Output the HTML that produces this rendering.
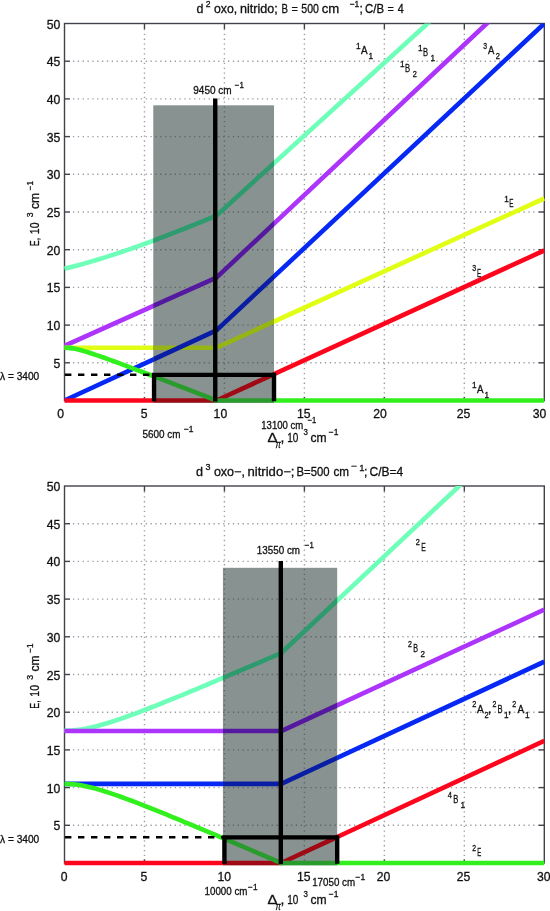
<!DOCTYPE html>
<html><head><meta charset="utf-8"><title>Energy level diagrams</title>
<style>
html,body{margin:0;padding:0;background:#fff;}
body{width:550px;height:911px;overflow:hidden;}
svg{display:block;}
text{font-family:"Liberation Sans", sans-serif;fill:#111;stroke:#111;stroke-width:0.3px;}
.g{stroke:#9c9ca3;stroke-width:1.4;stroke-dasharray:1.3 3.545;}
.gd{stroke:#5f6562;stroke-width:1.4;stroke-dasharray:1.3 3.545;}
.t{stroke:#40444a;stroke-width:1.4;}
.tk{font-size:12.2px;}
</style></head><body>
<svg width="550" height="911" viewBox="0 0 550 911">
<rect width="550" height="911" fill="#fff"/>

<g id="plot1">
<line x1="144.47" y1="28.90" x2="144.47" y2="400.50" class="g"/>
<line x1="224.43" y1="28.90" x2="224.43" y2="400.50" class="g"/>
<line x1="304.40" y1="28.90" x2="304.40" y2="400.50" class="g"/>
<line x1="384.37" y1="28.90" x2="384.37" y2="400.50" class="g"/>
<line x1="464.33" y1="28.90" x2="464.33" y2="400.50" class="g"/>
<line x1="72.95" y1="362.80" x2="544.30" y2="362.80" class="g"/>
<line x1="72.95" y1="325.10" x2="544.30" y2="325.10" class="g"/>
<line x1="72.95" y1="287.40" x2="544.30" y2="287.40" class="g"/>
<line x1="72.95" y1="249.70" x2="544.30" y2="249.70" class="g"/>
<line x1="72.95" y1="212.00" x2="544.30" y2="212.00" class="g"/>
<line x1="72.95" y1="174.30" x2="544.30" y2="174.30" class="g"/>
<line x1="72.95" y1="136.60" x2="544.30" y2="136.60" class="g"/>
<line x1="72.95" y1="98.90" x2="544.30" y2="98.90" class="g"/>
<line x1="72.95" y1="61.20" x2="544.30" y2="61.20" class="g"/>
<rect x="64.50" y="23.50" width="479.80" height="377.00" fill="none" class="t"/>
<line x1="144.47" y1="23.50" x2="144.47" y2="29.00" class="t"/>
<line x1="224.43" y1="23.50" x2="224.43" y2="29.00" class="t"/>
<line x1="304.40" y1="23.50" x2="304.40" y2="29.00" class="t"/>
<line x1="384.37" y1="23.50" x2="384.37" y2="29.00" class="t"/>
<line x1="464.33" y1="23.50" x2="464.33" y2="29.00" class="t"/>
<line x1="64.50" y1="362.80" x2="70.00" y2="362.80" class="t"/>
<line x1="544.30" y1="362.80" x2="538.80" y2="362.80" class="t"/>
<line x1="64.50" y1="325.10" x2="70.00" y2="325.10" class="t"/>
<line x1="544.30" y1="325.10" x2="538.80" y2="325.10" class="t"/>
<line x1="64.50" y1="287.40" x2="70.00" y2="287.40" class="t"/>
<line x1="544.30" y1="287.40" x2="538.80" y2="287.40" class="t"/>
<line x1="64.50" y1="249.70" x2="70.00" y2="249.70" class="t"/>
<line x1="544.30" y1="249.70" x2="538.80" y2="249.70" class="t"/>
<line x1="64.50" y1="212.00" x2="70.00" y2="212.00" class="t"/>
<line x1="544.30" y1="212.00" x2="538.80" y2="212.00" class="t"/>
<line x1="64.50" y1="174.30" x2="70.00" y2="174.30" class="t"/>
<line x1="544.30" y1="174.30" x2="538.80" y2="174.30" class="t"/>
<line x1="64.50" y1="136.60" x2="70.00" y2="136.60" class="t"/>
<line x1="544.30" y1="136.60" x2="538.80" y2="136.60" class="t"/>
<line x1="64.50" y1="98.90" x2="70.00" y2="98.90" class="t"/>
<line x1="544.30" y1="98.90" x2="538.80" y2="98.90" class="t"/>
<line x1="64.50" y1="61.20" x2="70.00" y2="61.20" class="t"/>
<line x1="544.30" y1="61.20" x2="538.80" y2="61.20" class="t"/>
<line x1="144.47" y1="398.50" x2="144.47" y2="396.90" class="t"/>
<line x1="224.43" y1="398.50" x2="224.43" y2="396.90" class="t"/>
<line x1="304.40" y1="398.50" x2="304.40" y2="396.90" class="t"/>
<line x1="384.37" y1="398.50" x2="384.37" y2="396.90" class="t"/>
<line x1="464.33" y1="398.50" x2="464.33" y2="396.90" class="t"/>
<clipPath id="c1"><rect x="64.00" y="23.50" width="480.80" height="382.00"/></clipPath>
<clipPath id="d1"><rect x="153.26" y="105.31" width="120.75" height="297.49"/></clipPath>
<g clip-path="url(#c1)">
<polyline points="64.50,268.78 68.40,267.81 72.29,266.81 76.19,265.78 80.08,264.73 83.98,263.64 87.87,262.54 91.77,261.41 95.67,260.25 99.56,259.07 103.46,257.86 107.35,256.64 111.25,255.39 115.15,254.12 119.04,252.82 122.94,251.51 126.83,250.18 130.73,248.83 134.62,247.46 138.52,246.08 142.42,244.67 146.31,243.25 150.21,241.82 154.10,240.37 158.00,238.90 161.90,237.43 165.79,235.93 169.69,234.43 173.58,232.91 177.48,231.39 181.37,229.85 185.27,228.30 189.17,226.75 193.06,225.18 196.96,223.61 200.85,222.03 204.75,220.44 208.65,218.85 212.54,217.25 216.44,215.64 427.55,23.50 443.54,8.42" fill="none" stroke="#6effb9" stroke-width="4.6" stroke-linejoin="round"/>
<polyline points="64.50,345.83 216.44,277.60 486.72,23.50 502.72,8.42" fill="none" stroke="#ad34fa" stroke-width="4.6" stroke-linejoin="round"/>
<polyline points="64.50,347.72 216.44,347.72 544.30,198.43" fill="none" stroke="#e1ff14" stroke-width="4.6" stroke-linejoin="round"/>
<polyline points="64.50,400.50 216.44,330.38 544.30,23.50" fill="none" stroke="#0528f5" stroke-width="4.6" stroke-linejoin="round"/>
<polyline points="64.50,400.50 216.44,400.50 544.30,250.45" fill="none" stroke="#fd051c" stroke-width="4.6" stroke-linejoin="round"/>
<polyline points="64.50,347.72 68.40,347.89 72.29,348.36 76.19,349.10 80.08,350.02 83.98,351.09 87.87,352.27 91.77,353.51 95.67,354.82 99.56,356.16 103.46,357.53 107.35,358.92 111.25,360.34 115.15,361.77 119.04,363.21 122.94,364.66 126.83,366.11 130.73,367.58 134.62,369.05 138.52,370.53 142.42,372.01 146.31,373.49 150.21,374.98 154.10,376.47 158.00,377.96 161.90,379.45 165.79,380.95 169.69,382.44 173.58,383.94 177.48,385.44 181.37,386.95 185.27,388.45 189.17,389.95 193.06,391.46 196.96,392.96 200.85,394.47 204.75,395.98 208.65,397.48 212.54,398.99 216.44,400.50 544.30,400.50" fill="none" stroke="#32f01e" stroke-width="4.6" stroke-linejoin="round"/>
</g>
<rect x="153.26" y="105.31" width="120.75" height="297.49" fill="#889391"/>
<g clip-path="url(#d1)">
<line x1="144.47" y1="28.90" x2="144.47" y2="400.50" class="gd"/>
<line x1="224.43" y1="28.90" x2="224.43" y2="400.50" class="gd"/>
<line x1="304.40" y1="28.90" x2="304.40" y2="400.50" class="gd"/>
<line x1="384.37" y1="28.90" x2="384.37" y2="400.50" class="gd"/>
<line x1="464.33" y1="28.90" x2="464.33" y2="400.50" class="gd"/>
<line x1="72.95" y1="362.80" x2="544.30" y2="362.80" class="gd"/>
<line x1="72.95" y1="325.10" x2="544.30" y2="325.10" class="gd"/>
<line x1="72.95" y1="287.40" x2="544.30" y2="287.40" class="gd"/>
<line x1="72.95" y1="249.70" x2="544.30" y2="249.70" class="gd"/>
<line x1="72.95" y1="212.00" x2="544.30" y2="212.00" class="gd"/>
<line x1="72.95" y1="174.30" x2="544.30" y2="174.30" class="gd"/>
<line x1="72.95" y1="136.60" x2="544.30" y2="136.60" class="gd"/>
<line x1="72.95" y1="98.90" x2="544.30" y2="98.90" class="gd"/>
<line x1="72.95" y1="61.20" x2="544.30" y2="61.20" class="gd"/>
<polyline points="64.50,268.78 68.40,267.81 72.29,266.81 76.19,265.78 80.08,264.73 83.98,263.64 87.87,262.54 91.77,261.41 95.67,260.25 99.56,259.07 103.46,257.86 107.35,256.64 111.25,255.39 115.15,254.12 119.04,252.82 122.94,251.51 126.83,250.18 130.73,248.83 134.62,247.46 138.52,246.08 142.42,244.67 146.31,243.25 150.21,241.82 154.10,240.37 158.00,238.90 161.90,237.43 165.79,235.93 169.69,234.43 173.58,232.91 177.48,231.39 181.37,229.85 185.27,228.30 189.17,226.75 193.06,225.18 196.96,223.61 200.85,222.03 204.75,220.44 208.65,218.85 212.54,217.25 216.44,215.64 427.55,23.50 443.54,8.42" fill="none" stroke="#2d9b6e" stroke-width="4.6" stroke-linejoin="round"/>
<polyline points="64.50,345.83 216.44,277.60 486.72,23.50 502.72,8.42" fill="none" stroke="#55199f" stroke-width="4.6" stroke-linejoin="round"/>
<polyline points="64.50,347.72 216.44,347.72 544.30,198.43" fill="none" stroke="#96b414" stroke-width="4.6" stroke-linejoin="round"/>
<polyline points="64.50,400.50 216.44,330.38 544.30,23.50" fill="none" stroke="#0a1ea5" stroke-width="4.6" stroke-linejoin="round"/>
<polyline points="64.50,400.50 216.44,400.50 544.30,250.45" fill="none" stroke="#a00a14" stroke-width="4.6" stroke-linejoin="round"/>
<polyline points="64.50,347.72 68.40,347.89 72.29,348.36 76.19,349.10 80.08,350.02 83.98,351.09 87.87,352.27 91.77,353.51 95.67,354.82 99.56,356.16 103.46,357.53 107.35,358.92 111.25,360.34 115.15,361.77 119.04,363.21 122.94,364.66 126.83,366.11 130.73,367.58 134.62,369.05 138.52,370.53 142.42,372.01 146.31,373.49 150.21,374.98 154.10,376.47 158.00,377.96 161.90,379.45 165.79,380.95 169.69,382.44 173.58,383.94 177.48,385.44 181.37,386.95 185.27,388.45 189.17,389.95 193.06,391.46 196.96,392.96 200.85,394.47 204.75,395.98 208.65,397.48 212.54,398.99 216.44,400.50 544.30,400.50" fill="none" stroke="#2a9b2d" stroke-width="4.6" stroke-linejoin="round"/>
</g>
<line x1="215.24" y1="98.60" x2="215.24" y2="401.50" stroke="#000" stroke-width="4.4"/>
<polyline points="154.06,401.25 154.06,374.86 274.01,374.86 274.01,401.25" fill="none" stroke="#000" stroke-width="4.4"/>
<line x1="65.00" y1="374.86" x2="154.06" y2="374.86" stroke="#000" stroke-width="2.5" stroke-dasharray="6.4 6.6"/>
<text x="60.40" y="367.80" class="tk" text-anchor="end">5</text>
<text x="60.40" y="330.10" class="tk" text-anchor="end">10</text>
<text x="60.40" y="292.40" class="tk" text-anchor="end">15</text>
<text x="60.40" y="254.70" class="tk" text-anchor="end">20</text>
<text x="60.40" y="217.00" class="tk" text-anchor="end">25</text>
<text x="60.40" y="179.30" class="tk" text-anchor="end">30</text>
<text x="60.40" y="141.60" class="tk" text-anchor="end">35</text>
<text x="60.40" y="103.90" class="tk" text-anchor="end">40</text>
<text x="60.40" y="66.20" class="tk" text-anchor="end">45</text>
<text x="60.40" y="28.50" class="tk" text-anchor="end">50</text>
<text x="60.60" y="418.30" class="tk" text-anchor="middle">0</text>
<text x="144.20" y="418.30" class="tk" text-anchor="middle">5</text>
<text x="220.40" y="418.30" class="tk" text-anchor="middle">10</text>
<text x="303.70" y="418.30" class="tk" text-anchor="middle">15</text>
<text x="380.00" y="418.30" class="tk" text-anchor="middle">20</text>
<text x="463.60" y="418.30" class="tk" text-anchor="middle">25</text>
<text x="539.60" y="418.30" class="tk" text-anchor="middle">30</text>
</g>
<g id="plot2">
<line x1="144.47" y1="491.40" x2="144.47" y2="863.00" class="g"/>
<line x1="224.43" y1="491.40" x2="224.43" y2="863.00" class="g"/>
<line x1="304.40" y1="491.40" x2="304.40" y2="863.00" class="g"/>
<line x1="384.37" y1="491.40" x2="384.37" y2="863.00" class="g"/>
<line x1="464.33" y1="491.40" x2="464.33" y2="863.00" class="g"/>
<line x1="72.95" y1="825.30" x2="544.30" y2="825.30" class="g"/>
<line x1="72.95" y1="787.60" x2="544.30" y2="787.60" class="g"/>
<line x1="72.95" y1="749.90" x2="544.30" y2="749.90" class="g"/>
<line x1="72.95" y1="712.20" x2="544.30" y2="712.20" class="g"/>
<line x1="72.95" y1="674.50" x2="544.30" y2="674.50" class="g"/>
<line x1="72.95" y1="636.80" x2="544.30" y2="636.80" class="g"/>
<line x1="72.95" y1="599.10" x2="544.30" y2="599.10" class="g"/>
<line x1="72.95" y1="561.40" x2="544.30" y2="561.40" class="g"/>
<line x1="72.95" y1="523.70" x2="544.30" y2="523.70" class="g"/>
<rect x="64.50" y="486.00" width="479.80" height="377.00" fill="none" class="t"/>
<line x1="144.47" y1="486.00" x2="144.47" y2="491.50" class="t"/>
<line x1="224.43" y1="486.00" x2="224.43" y2="491.50" class="t"/>
<line x1="304.40" y1="486.00" x2="304.40" y2="491.50" class="t"/>
<line x1="384.37" y1="486.00" x2="384.37" y2="491.50" class="t"/>
<line x1="464.33" y1="486.00" x2="464.33" y2="491.50" class="t"/>
<line x1="64.50" y1="825.30" x2="70.00" y2="825.30" class="t"/>
<line x1="544.30" y1="825.30" x2="538.80" y2="825.30" class="t"/>
<line x1="64.50" y1="787.60" x2="70.00" y2="787.60" class="t"/>
<line x1="544.30" y1="787.60" x2="538.80" y2="787.60" class="t"/>
<line x1="64.50" y1="749.90" x2="70.00" y2="749.90" class="t"/>
<line x1="544.30" y1="749.90" x2="538.80" y2="749.90" class="t"/>
<line x1="64.50" y1="712.20" x2="70.00" y2="712.20" class="t"/>
<line x1="544.30" y1="712.20" x2="538.80" y2="712.20" class="t"/>
<line x1="64.50" y1="674.50" x2="70.00" y2="674.50" class="t"/>
<line x1="544.30" y1="674.50" x2="538.80" y2="674.50" class="t"/>
<line x1="64.50" y1="636.80" x2="70.00" y2="636.80" class="t"/>
<line x1="544.30" y1="636.80" x2="538.80" y2="636.80" class="t"/>
<line x1="64.50" y1="599.10" x2="70.00" y2="599.10" class="t"/>
<line x1="544.30" y1="599.10" x2="538.80" y2="599.10" class="t"/>
<line x1="64.50" y1="561.40" x2="70.00" y2="561.40" class="t"/>
<line x1="544.30" y1="561.40" x2="538.80" y2="561.40" class="t"/>
<line x1="64.50" y1="523.70" x2="70.00" y2="523.70" class="t"/>
<line x1="544.30" y1="523.70" x2="538.80" y2="523.70" class="t"/>
<line x1="144.47" y1="861.00" x2="144.47" y2="859.40" class="t"/>
<line x1="224.43" y1="861.00" x2="224.43" y2="859.40" class="t"/>
<line x1="304.40" y1="861.00" x2="304.40" y2="859.40" class="t"/>
<line x1="384.37" y1="861.00" x2="384.37" y2="859.40" class="t"/>
<line x1="464.33" y1="861.00" x2="464.33" y2="859.40" class="t"/>
<clipPath id="c2"><rect x="64.00" y="486.00" width="480.80" height="382.00"/></clipPath>
<clipPath id="d2"><rect x="222.93" y="567.81" width="114.25" height="297.49"/></clipPath>
<g clip-path="url(#c2)">
<polyline points="64.50,730.67 68.92,730.58 73.35,730.29 77.77,729.83 82.19,729.19 86.61,728.40 91.04,727.47 95.46,726.42 99.88,725.27 104.30,724.02 108.73,722.69 113.15,721.29 117.57,719.83 121.99,718.32 126.42,716.76 130.84,715.16 135.26,713.54 139.68,711.88 144.11,710.19 148.53,708.49 152.95,706.76 157.38,705.02 161.80,703.26 166.22,701.48 170.64,699.70 175.07,697.90 179.49,696.09 183.91,694.27 188.33,692.45 192.76,690.62 197.18,688.78 201.60,686.93 206.02,685.08 210.45,683.22 214.87,681.36 219.29,679.49 223.72,677.62 228.14,675.75 232.56,673.87 236.98,671.99 241.41,670.10 245.83,668.22 250.25,666.33 254.67,664.43 259.10,662.54 263.52,660.64 267.94,658.74 272.36,656.84 276.79,654.94 281.21,653.03 459.22,486.00 475.21,470.92" fill="none" stroke="#6effb9" stroke-width="4.6" stroke-linejoin="round"/>
<polyline points="64.50,731.05 281.21,731.05 544.30,609.66" fill="none" stroke="#ad34fa" stroke-width="4.6" stroke-linejoin="round"/>
<polyline points="64.50,783.83 281.21,783.83 544.30,661.68" fill="none" stroke="#0528f5" stroke-width="4.6" stroke-linejoin="round"/>
<polyline points="64.50,863.00 281.21,863.00 544.30,740.85" fill="none" stroke="#fd051c" stroke-width="4.6" stroke-linejoin="round"/>
<polyline points="64.50,783.83 68.92,783.94 73.35,784.27 77.77,784.80 82.19,785.52 86.61,786.41 91.04,787.44 95.46,788.59 99.88,789.85 104.30,791.20 108.73,792.62 113.15,794.11 117.57,795.64 121.99,797.23 126.42,798.85 130.84,800.50 135.26,802.18 139.68,803.89 144.11,805.61 148.53,807.36 152.95,809.12 157.38,810.89 161.80,812.68 166.22,814.48 170.64,816.29 175.07,818.10 179.49,819.93 183.91,821.76 188.33,823.60 192.76,825.44 197.18,827.29 201.60,829.14 206.02,831.00 210.45,832.86 214.87,834.73 219.29,836.59 223.72,838.47 228.14,840.34 232.56,842.22 236.98,844.10 241.41,845.98 245.83,847.86 250.25,849.75 254.67,851.64 259.10,853.53 263.52,855.42 267.94,857.31 272.36,859.21 276.79,861.10 281.21,863.00 544.30,863.00" fill="none" stroke="#32f01e" stroke-width="4.6" stroke-linejoin="round"/>
</g>
<rect x="222.93" y="567.81" width="114.25" height="297.49" fill="#889391"/>
<g clip-path="url(#d2)">
<line x1="144.47" y1="491.40" x2="144.47" y2="863.00" class="gd"/>
<line x1="224.43" y1="491.40" x2="224.43" y2="863.00" class="gd"/>
<line x1="304.40" y1="491.40" x2="304.40" y2="863.00" class="gd"/>
<line x1="384.37" y1="491.40" x2="384.37" y2="863.00" class="gd"/>
<line x1="464.33" y1="491.40" x2="464.33" y2="863.00" class="gd"/>
<line x1="72.95" y1="825.30" x2="544.30" y2="825.30" class="gd"/>
<line x1="72.95" y1="787.60" x2="544.30" y2="787.60" class="gd"/>
<line x1="72.95" y1="749.90" x2="544.30" y2="749.90" class="gd"/>
<line x1="72.95" y1="712.20" x2="544.30" y2="712.20" class="gd"/>
<line x1="72.95" y1="674.50" x2="544.30" y2="674.50" class="gd"/>
<line x1="72.95" y1="636.80" x2="544.30" y2="636.80" class="gd"/>
<line x1="72.95" y1="599.10" x2="544.30" y2="599.10" class="gd"/>
<line x1="72.95" y1="561.40" x2="544.30" y2="561.40" class="gd"/>
<line x1="72.95" y1="523.70" x2="544.30" y2="523.70" class="gd"/>
<polyline points="64.50,730.67 68.92,730.58 73.35,730.29 77.77,729.83 82.19,729.19 86.61,728.40 91.04,727.47 95.46,726.42 99.88,725.27 104.30,724.02 108.73,722.69 113.15,721.29 117.57,719.83 121.99,718.32 126.42,716.76 130.84,715.16 135.26,713.54 139.68,711.88 144.11,710.19 148.53,708.49 152.95,706.76 157.38,705.02 161.80,703.26 166.22,701.48 170.64,699.70 175.07,697.90 179.49,696.09 183.91,694.27 188.33,692.45 192.76,690.62 197.18,688.78 201.60,686.93 206.02,685.08 210.45,683.22 214.87,681.36 219.29,679.49 223.72,677.62 228.14,675.75 232.56,673.87 236.98,671.99 241.41,670.10 245.83,668.22 250.25,666.33 254.67,664.43 259.10,662.54 263.52,660.64 267.94,658.74 272.36,656.84 276.79,654.94 281.21,653.03 459.22,486.00 475.21,470.92" fill="none" stroke="#2d9b6e" stroke-width="4.6" stroke-linejoin="round"/>
<polyline points="64.50,731.05 281.21,731.05 544.30,609.66" fill="none" stroke="#55199f" stroke-width="4.6" stroke-linejoin="round"/>
<polyline points="64.50,783.83 281.21,783.83 544.30,661.68" fill="none" stroke="#0a1ea5" stroke-width="4.6" stroke-linejoin="round"/>
<polyline points="64.50,863.00 281.21,863.00 544.30,740.85" fill="none" stroke="#a00a14" stroke-width="4.6" stroke-linejoin="round"/>
<polyline points="64.50,783.83 68.92,783.94 73.35,784.27 77.77,784.80 82.19,785.52 86.61,786.41 91.04,787.44 95.46,788.59 99.88,789.85 104.30,791.20 108.73,792.62 113.15,794.11 117.57,795.64 121.99,797.23 126.42,798.85 130.84,800.50 135.26,802.18 139.68,803.89 144.11,805.61 148.53,807.36 152.95,809.12 157.38,810.89 161.80,812.68 166.22,814.48 170.64,816.29 175.07,818.10 179.49,819.93 183.91,821.76 188.33,823.60 192.76,825.44 197.18,827.29 201.60,829.14 206.02,831.00 210.45,832.86 214.87,834.73 219.29,836.59 223.72,838.47 228.14,840.34 232.56,842.22 236.98,844.10 241.41,845.98 245.83,847.86 250.25,849.75 254.67,851.64 259.10,853.53 263.52,855.42 267.94,857.31 272.36,859.21 276.79,861.10 281.21,863.00 544.30,863.00" fill="none" stroke="#2a9b2d" stroke-width="4.6" stroke-linejoin="round"/>
</g>
<line x1="280.81" y1="561.10" x2="280.81" y2="864.00" stroke="#000" stroke-width="4.4"/>
<polyline points="224.43,863.75 224.43,837.36 337.19,837.36 337.19,863.75" fill="none" stroke="#000" stroke-width="4.4"/>
<line x1="65.00" y1="837.36" x2="224.43" y2="837.36" stroke="#000" stroke-width="2.5" stroke-dasharray="6.4 6.6"/>
<text x="60.40" y="830.30" class="tk" text-anchor="end">5</text>
<text x="60.40" y="792.60" class="tk" text-anchor="end">10</text>
<text x="60.40" y="754.90" class="tk" text-anchor="end">15</text>
<text x="60.40" y="717.20" class="tk" text-anchor="end">20</text>
<text x="60.40" y="679.50" class="tk" text-anchor="end">25</text>
<text x="60.40" y="641.80" class="tk" text-anchor="end">30</text>
<text x="60.40" y="604.10" class="tk" text-anchor="end">35</text>
<text x="60.40" y="566.40" class="tk" text-anchor="end">40</text>
<text x="60.40" y="528.70" class="tk" text-anchor="end">45</text>
<text x="60.40" y="491.00" class="tk" text-anchor="end">50</text>
<text x="64.20" y="880.60" class="tk" text-anchor="middle">0</text>
<text x="144.00" y="880.60" class="tk" text-anchor="middle">5</text>
<text x="224.20" y="880.60" class="tk" text-anchor="middle">10</text>
<text x="303.70" y="880.60" class="tk" text-anchor="middle">15</text>
<text x="383.50" y="880.60" class="tk" text-anchor="middle">20</text>
<text x="463.60" y="880.60" class="tk" text-anchor="middle">25</text>
<text x="543.70" y="880.60" class="tk" text-anchor="middle">30</text>
</g>
<g id="labels">
<text x="196.60" y="13.20" font-size="12.20" textLength="6.90" lengthAdjust="spacingAndGlyphs">d</text>
<text x="205.70" y="6.90" font-size="9.00" textLength="4.80" lengthAdjust="spacingAndGlyphs">2</text>
<text x="214.00" y="13.20" font-size="12.20" textLength="23.30" lengthAdjust="spacingAndGlyphs">oxo,</text>
<text x="240.10" y="13.20" font-size="12.20" textLength="37.70" lengthAdjust="spacingAndGlyphs">nitrido;</text>
<text x="281.50" y="13.20" font-size="12.20" textLength="6.50" lengthAdjust="spacingAndGlyphs">B</text>
<text x="291.40" y="13.20" font-size="12.20" textLength="6.30" lengthAdjust="spacingAndGlyphs">=</text>
<text x="301.30" y="13.20" font-size="12.20" textLength="17.60" lengthAdjust="spacingAndGlyphs">500</text>
<text x="321.70" y="13.20" font-size="12.20" textLength="17.50" lengthAdjust="spacingAndGlyphs">cm</text>
<text x="349.60" y="6.90" font-size="8.70" textLength="9.60" lengthAdjust="spacingAndGlyphs">−1</text>
<text x="359.6" y="13.2" font-size="12.2">;</text>
<text x="365.10" y="13.20" font-size="12.20" textLength="19.00" lengthAdjust="spacingAndGlyphs">C/B</text>
<text x="387.60" y="13.20" font-size="12.20" textLength="6.30" lengthAdjust="spacingAndGlyphs">=</text>
<text x="397.80" y="13.20" font-size="12.20" textLength="6.00" lengthAdjust="spacingAndGlyphs">4</text>
<text x="356.00" y="49.20" font-size="8.20" stroke="none">1</text>
<text x="360.90" y="54.00" font-size="10.60" textLength="6.60" lengthAdjust="spacingAndGlyphs" stroke="none">A</text>
<text x="368.60" y="59.00" font-size="8.20" stroke="none">1</text>
<text x="418.00" y="51.40" font-size="8.20" stroke="none">1</text>
<text x="423.10" y="56.30" font-size="10.60" textLength="5.10" lengthAdjust="spacingAndGlyphs" stroke="none">B</text>
<text x="430.60" y="61.20" font-size="8.20" stroke="none">1</text>
<text x="400.10" y="67.00" font-size="8.20" stroke="none">1</text>
<text x="405.00" y="71.60" font-size="10.60" textLength="5.10" lengthAdjust="spacingAndGlyphs" stroke="none">B</text>
<text x="412.75" y="76.90" font-size="8.20" textLength="4.10" lengthAdjust="spacingAndGlyphs" stroke="none">2</text>
<text x="483.25" y="48.90" font-size="8.20" textLength="3.80" lengthAdjust="spacingAndGlyphs" stroke="none">3</text>
<text x="487.90" y="53.70" font-size="10.60" textLength="6.30" lengthAdjust="spacingAndGlyphs" stroke="none">A</text>
<text x="495.75" y="59.10" font-size="8.20" textLength="4.20" lengthAdjust="spacingAndGlyphs" stroke="none">2</text>
<text x="504.20" y="202.10" font-size="8.20" stroke="none">1</text>
<text x="509.30" y="207.00" font-size="10.60" textLength="4.20" lengthAdjust="spacingAndGlyphs" stroke="none">E</text>
<text x="472.15" y="271.10" font-size="8.20" textLength="3.90" lengthAdjust="spacingAndGlyphs" stroke="none">3</text>
<text x="477.10" y="276.50" font-size="10.60" textLength="4.10" lengthAdjust="spacingAndGlyphs" stroke="none">E</text>
<text x="471.90" y="387.90" font-size="8.20" stroke="none">1</text>
<text x="476.90" y="393.30" font-size="10.60" textLength="6.50" lengthAdjust="spacingAndGlyphs" stroke="none">A</text>
<text x="484.60" y="398.40" font-size="8.20" stroke="none">1</text>
<text x="193.30" y="93.70" font-size="10.60" textLength="38.40" lengthAdjust="spacingAndGlyphs" stroke="none">9450 cm</text>
<text x="234.80" y="88.30" font-size="8.20" textLength="9.00" lengthAdjust="spacingAndGlyphs" stroke="none">−1</text>
<text x="0.00" y="380.20" font-size="10.60" textLength="39.20" lengthAdjust="spacingAndGlyphs" stroke="none">λ = 3400</text>
<text x="142.50" y="438.00" font-size="10.60" textLength="38.00" lengthAdjust="spacingAndGlyphs" stroke="none">5600 cm</text>
<text x="183.90" y="432.20" font-size="8.20" textLength="9.60" lengthAdjust="spacingAndGlyphs" stroke="none">−1</text>
<text x="261.30" y="429.10" font-size="10.60" textLength="41.90" lengthAdjust="spacingAndGlyphs" stroke="none">13100 cm</text>
<text x="307.70" y="423.20" font-size="8.20" textLength="8.60" lengthAdjust="spacingAndGlyphs" stroke="none">−1</text>
<text x="267.50" y="441.50" font-size="12.30" textLength="9.90" lengthAdjust="spacingAndGlyphs" stroke="none">Δ</text>
<text x="275.50" y="447.70" font-size="10.50" textLength="5.40" lengthAdjust="spacingAndGlyphs" font-style="italic" stroke="none">π</text>
<text x="280.5" y="441.70" font-size="14" stroke="none">,</text>
<text x="287.20" y="441.50" font-size="12.30" textLength="11.10" lengthAdjust="spacingAndGlyphs">10</text>
<text x="303.60" y="434.90" font-size="8.50" textLength="4.40" lengthAdjust="spacingAndGlyphs">3</text>
<text x="310.50" y="441.50" font-size="12.30" textLength="16.10" lengthAdjust="spacingAndGlyphs">cm</text>
<text x="328.70" y="435.30" font-size="8.50" textLength="9.70" lengthAdjust="spacingAndGlyphs">−1</text>
<text x="267.50" y="903.60" font-size="12.30" textLength="9.90" lengthAdjust="spacingAndGlyphs" stroke="none">Δ</text>
<text x="275.50" y="909.80" font-size="10.50" textLength="5.40" lengthAdjust="spacingAndGlyphs" font-style="italic" stroke="none">π</text>
<text x="280.5" y="903.80" font-size="14" stroke="none">,</text>
<text x="287.20" y="903.60" font-size="12.30" textLength="11.10" lengthAdjust="spacingAndGlyphs">10</text>
<text x="303.60" y="897.00" font-size="8.50" textLength="4.40" lengthAdjust="spacingAndGlyphs">3</text>
<text x="310.50" y="903.60" font-size="12.30" textLength="16.10" lengthAdjust="spacingAndGlyphs">cm</text>
<text x="328.70" y="897.40" font-size="8.50" textLength="9.70" lengthAdjust="spacingAndGlyphs">−1</text>
<g transform="translate(39.1,245.90) rotate(-90)">
<text x="-0.30" y="0.00" font-size="12.30" textLength="8.40" lengthAdjust="spacingAndGlyphs">E,</text>
<text x="11.70" y="0.00" font-size="12.30" textLength="11.70" lengthAdjust="spacingAndGlyphs">10</text>
<text x="28.70" y="-6.30" font-size="8.50" textLength="4.80" lengthAdjust="spacingAndGlyphs">3</text>
<text x="36.90" y="0.00" font-size="12.30" textLength="16.20" lengthAdjust="spacingAndGlyphs">cm</text>
<text x="55.60" y="-6.30" font-size="8.50" textLength="9.20" lengthAdjust="spacingAndGlyphs">−1</text>
</g>
<g transform="translate(39.1,708.40) rotate(-90)">
<text x="-0.30" y="0.00" font-size="12.30" textLength="8.40" lengthAdjust="spacingAndGlyphs">E,</text>
<text x="11.70" y="0.00" font-size="12.30" textLength="11.70" lengthAdjust="spacingAndGlyphs">10</text>
<text x="28.70" y="-6.30" font-size="8.50" textLength="4.80" lengthAdjust="spacingAndGlyphs">3</text>
<text x="36.90" y="0.00" font-size="12.30" textLength="16.20" lengthAdjust="spacingAndGlyphs">cm</text>
<text x="55.60" y="-6.30" font-size="8.50" textLength="9.20" lengthAdjust="spacingAndGlyphs">−1</text>
</g>
<text x="195.90" y="476.00" font-size="12.20" textLength="7.00" lengthAdjust="spacingAndGlyphs">d</text>
<text x="205.50" y="469.60" font-size="9.20" textLength="5.00" lengthAdjust="spacingAndGlyphs">3</text>
<text x="213.90" y="476.00" font-size="12.20" textLength="31.00" lengthAdjust="spacingAndGlyphs">oxo−,</text>
<text x="247.50" y="476.00" font-size="12.20" textLength="47.00" lengthAdjust="spacingAndGlyphs">nitrido−;</text>
<text x="296.50" y="476.00" font-size="12.20" textLength="33.00" lengthAdjust="spacingAndGlyphs">B=500</text>
<text x="333.50" y="476.00" font-size="12.20" textLength="15.60" lengthAdjust="spacingAndGlyphs">cm</text>
<text x="351.00" y="468.70" font-size="9.00" textLength="5.80" lengthAdjust="spacingAndGlyphs">−</text>
<text x="359.15" y="470.70" font-size="9.50">1</text>
<text x="364.0" y="476" font-size="12.2">;</text>
<text x="369.50" y="476.00" font-size="12.20" textLength="33.70" lengthAdjust="spacingAndGlyphs">C/B=4</text>
<text x="415.65" y="545.40" font-size="8.20" textLength="4.10" lengthAdjust="spacingAndGlyphs" stroke="none">2</text>
<text x="421.20" y="550.50" font-size="10.60" textLength="4.50" lengthAdjust="spacingAndGlyphs" stroke="none">E</text>
<text x="408.05" y="647.40" font-size="8.20" textLength="3.90" lengthAdjust="spacingAndGlyphs" stroke="none">2</text>
<text x="413.30" y="652.30" font-size="10.60" textLength="4.80" lengthAdjust="spacingAndGlyphs" stroke="none">B</text>
<text x="420.55" y="657.20" font-size="8.20" textLength="4.50" lengthAdjust="spacingAndGlyphs" stroke="none">2</text>
<text x="472.35" y="707.30" font-size="8.20" textLength="4.10" lengthAdjust="spacingAndGlyphs" stroke="none">2</text>
<text x="477.10" y="712.70" font-size="10.60" textLength="6.80" lengthAdjust="spacingAndGlyphs" stroke="none">A</text>
<text x="484.45" y="717.50" font-size="8.20" textLength="4.10" lengthAdjust="spacingAndGlyphs" stroke="none">2</text>
<text x="487.8" y="712.7" font-size="13" stroke="none">,</text>
<text x="492.45" y="707.30" font-size="8.20" textLength="3.90" lengthAdjust="spacingAndGlyphs" stroke="none">2</text>
<text x="497.40" y="712.70" font-size="10.60" textLength="5.10" lengthAdjust="spacingAndGlyphs" stroke="none">B</text>
<text x="504.00" y="717.50" font-size="8.20" stroke="none">1</text>
<text x="507.8" y="712.7" font-size="13" stroke="none">,</text>
<text x="512.35" y="707.30" font-size="8.20" textLength="4.00" lengthAdjust="spacingAndGlyphs" stroke="none">2</text>
<text x="517.50" y="712.70" font-size="10.60" textLength="6.60" lengthAdjust="spacingAndGlyphs" stroke="none">A</text>
<text x="525.00" y="717.50" font-size="8.20" stroke="none">1</text>
<text x="447.85" y="797.50" font-size="8.20" textLength="4.20" lengthAdjust="spacingAndGlyphs" stroke="none">4</text>
<text x="453.20" y="803.00" font-size="10.60" textLength="5.10" lengthAdjust="spacingAndGlyphs" stroke="none">B</text>
<text x="460.40" y="807.60" font-size="8.20" stroke="none">1</text>
<text x="472.25" y="851.00" font-size="8.20" textLength="3.80" lengthAdjust="spacingAndGlyphs" stroke="none">2</text>
<text x="477.20" y="856.00" font-size="10.60" textLength="4.00" lengthAdjust="spacingAndGlyphs" stroke="none">E</text>
<text x="256.80" y="554.00" font-size="10.60" textLength="43.20" lengthAdjust="spacingAndGlyphs" stroke="none">13550 cm</text>
<text x="305.00" y="548.00" font-size="8.20" textLength="8.80" lengthAdjust="spacingAndGlyphs" stroke="none">−1</text>
<text x="0.00" y="842.70" font-size="10.60" textLength="39.20" lengthAdjust="spacingAndGlyphs" stroke="none">λ = 3400</text>
<text x="204.50" y="894.60" font-size="10.60" textLength="43.00" lengthAdjust="spacingAndGlyphs" stroke="none">10000 cm</text>
<text x="248.10" y="889.60" font-size="8.20" textLength="9.40" lengthAdjust="spacingAndGlyphs" stroke="none">−1</text>
<text x="312.20" y="886.20" font-size="10.60" textLength="42.90" lengthAdjust="spacingAndGlyphs" stroke="none">17050 cm</text>
<text x="355.60" y="880.30" font-size="8.20" textLength="9.60" lengthAdjust="spacingAndGlyphs" stroke="none">−1</text>
</g>
</svg></body></html>
